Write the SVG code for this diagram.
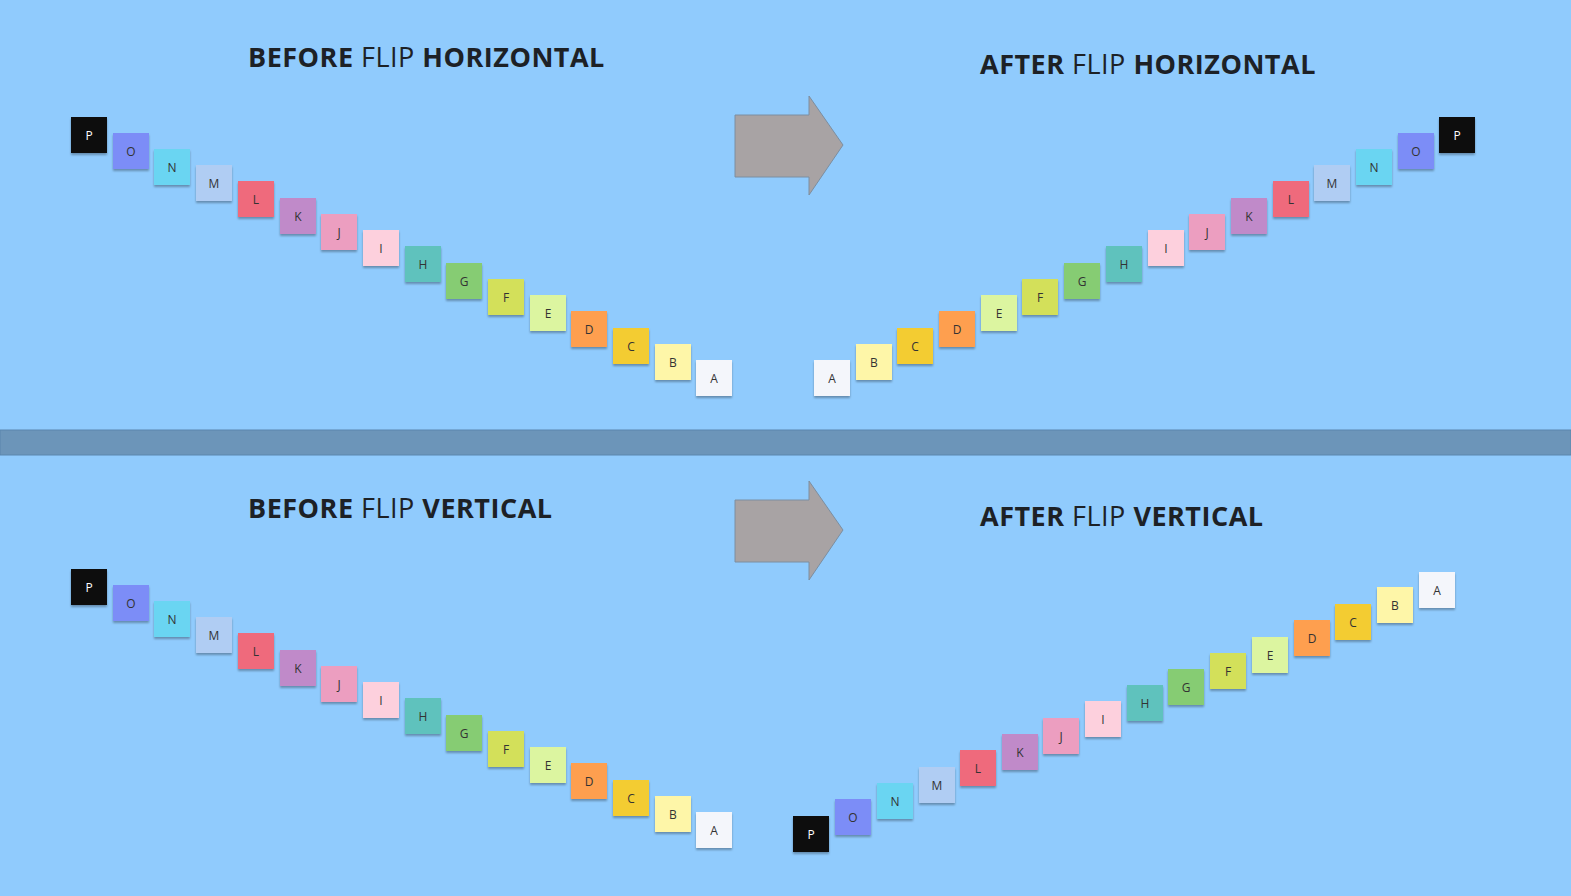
<svg xmlns="http://www.w3.org/2000/svg" width="1571" height="896" viewBox="0 0 1571 896">
<defs>
<style>
.t{font-family:"Open Sans","Liberation Sans",sans-serif;font-size:27px;fill:#1d2126;letter-spacing:0.5px}
.b{font-weight:bold}
.n{stroke:none}
.l{font-family:"Open Sans","Liberation Sans",sans-serif;font-size:12px;fill:#333;text-anchor:middle;dominant-baseline:central}
.w{fill:#fff}
.arr{fill:#a8a3a4;stroke:#7c8ea0;stroke-width:1}
</style>
<filter id="sh" x="-20%" y="-20%" width="140%" height="150%"><feDropShadow dx="0" dy="2" stdDeviation="1.2" flood-opacity="0.3"/></filter>
<symbol id="s" overflow="visible"><rect x="-18" y="-18" width="36" height="36" filter="url(#sh)"/></symbol>
</defs>
<rect width="1571" height="896" fill="#90cbfd"/>
<rect x="0" y="430" width="1571" height="25" fill="#6c95b9" stroke="#5a86ad"/>
<g id="titles">
<text class="t" x="248" y="67"><tspan class="b">BEFORE</tspan> FLIP <tspan class="b">HORIZONTAL</tspan></text>
<text class="t" x="980" y="74"><tspan class="b">AFTER</tspan> FLIP <tspan class="b">HORIZONTAL</tspan></text>
<text class="t" x="248" y="518"><tspan class="b">BEFORE</tspan> FLIP <tspan class="b">VERTICAL</tspan></text>
<text class="t" x="980" y="526"><tspan class="b">AFTER</tspan> FLIP <tspan class="b">VERTICAL</tspan></text>
</g>
<g id="arrow1"><path class="arr" d="M735,115H809V96L843,145L809,195V177H735Z"/></g>
<g id="arrow2"><path class="arr" d="M735,500H809V481L843,530L809,580V562H735Z"/></g>
<g id="notes"></g>
<g id="tl">
<g id="tl-P"><rect x="71" y="117" width="36" height="36" fill="#111" filter="url(#sh)"/><text class="l w" x="89" y="135">P</text></g>
<g id="tl-O"><rect x="113" y="133" width="36" height="36" fill="#7b8df7" filter="url(#sh)"/><text class="l" x="131" y="151">O</text></g>
<g id="tl-N"><rect x="154" y="149" width="36" height="36" fill="#6bd5f2" filter="url(#sh)"/><text class="l" x="172" y="167">N</text></g>
<g id="tl-M"><rect x="196" y="165" width="36" height="36" fill="#b0cdf3" filter="url(#sh)"/><text class="l" x="214" y="183">M</text></g>
<g id="tl-L"><rect x="238" y="181" width="36" height="36" fill="#ef6b7c" filter="url(#sh)"/><text class="l" x="256" y="199">L</text></g>
<g id="tl-K"><rect x="280" y="198" width="36" height="36" fill="#c08ac9" filter="url(#sh)"/><text class="l" x="298" y="216">K</text></g>
<g id="tl-J"><rect x="321" y="214" width="36" height="36" fill="#ec9ec0" filter="url(#sh)"/><text class="l" x="339" y="232">J</text></g>
<g id="tl-I"><rect x="363" y="230" width="36" height="36" fill="#fdd0dd" filter="url(#sh)"/><text class="l" x="381" y="248">I</text></g>
<g id="tl-H"><rect x="405" y="246" width="36" height="36" fill="#5ec2bd" filter="url(#sh)"/><text class="l" x="423" y="264">H</text></g>
<g id="tl-G"><rect x="446" y="263" width="36" height="36" fill="#86cc73" filter="url(#sh)"/><text class="l" x="464" y="281">G</text></g>
<g id="tl-F"><rect x="488" y="279" width="36" height="36" fill="#d3e05a" filter="url(#sh)"/><text class="l" x="506" y="297">F</text></g>
<g id="tl-E"><rect x="530" y="295" width="36" height="36" fill="#dcf5a0" filter="url(#sh)"/><text class="l" x="548" y="313">E</text></g>
<g id="tl-D"><rect x="571" y="311" width="36" height="36" fill="#fe9f4f" filter="url(#sh)"/><text class="l" x="589" y="329">D</text></g>
<g id="tl-C"><rect x="613" y="328" width="36" height="36" fill="#f3cc30" filter="url(#sh)"/><text class="l" x="631" y="346">C</text></g>
<g id="tl-B"><rect x="655" y="344" width="36" height="36" fill="#fef6a8" filter="url(#sh)"/><text class="l" x="673" y="362">B</text></g>
<g id="tl-A"><rect x="696" y="360" width="36" height="36" fill="#f4f6fb" filter="url(#sh)"/><text class="l" x="714" y="378">A</text></g>
</g>
<g id="tr">
<g id="tr-A"><rect x="814" y="360" width="36" height="36" fill="#f4f6fb" filter="url(#sh)"/><text class="l" x="832" y="378">A</text></g>
<g id="tr-B"><rect x="856" y="344" width="36" height="36" fill="#fef6a8" filter="url(#sh)"/><text class="l" x="874" y="362">B</text></g>
<g id="tr-C"><rect x="897" y="328" width="36" height="36" fill="#f3cc30" filter="url(#sh)"/><text class="l" x="915" y="346">C</text></g>
<g id="tr-D"><rect x="939" y="311" width="36" height="36" fill="#fe9f4f" filter="url(#sh)"/><text class="l" x="957" y="329">D</text></g>
<g id="tr-E"><rect x="981" y="295" width="36" height="36" fill="#dcf5a0" filter="url(#sh)"/><text class="l" x="999" y="313">E</text></g>
<g id="tr-F"><rect x="1022" y="279" width="36" height="36" fill="#d3e05a" filter="url(#sh)"/><text class="l" x="1040" y="297">F</text></g>
<g id="tr-G"><rect x="1064" y="263" width="36" height="36" fill="#86cc73" filter="url(#sh)"/><text class="l" x="1082" y="281">G</text></g>
<g id="tr-H"><rect x="1106" y="246" width="36" height="36" fill="#5ec2bd" filter="url(#sh)"/><text class="l" x="1124" y="264">H</text></g>
<g id="tr-I"><rect x="1148" y="230" width="36" height="36" fill="#fdd0dd" filter="url(#sh)"/><text class="l" x="1166" y="248">I</text></g>
<g id="tr-J"><rect x="1189" y="214" width="36" height="36" fill="#ec9ec0" filter="url(#sh)"/><text class="l" x="1207" y="232">J</text></g>
<g id="tr-K"><rect x="1231" y="198" width="36" height="36" fill="#c08ac9" filter="url(#sh)"/><text class="l" x="1249" y="216">K</text></g>
<g id="tr-L"><rect x="1273" y="181" width="36" height="36" fill="#ef6b7c" filter="url(#sh)"/><text class="l" x="1291" y="199">L</text></g>
<g id="tr-M"><rect x="1314" y="165" width="36" height="36" fill="#b0cdf3" filter="url(#sh)"/><text class="l" x="1332" y="183">M</text></g>
<g id="tr-N"><rect x="1356" y="149" width="36" height="36" fill="#6bd5f2" filter="url(#sh)"/><text class="l" x="1374" y="167">N</text></g>
<g id="tr-O"><rect x="1398" y="133" width="36" height="36" fill="#7b8df7" filter="url(#sh)"/><text class="l" x="1416" y="151">O</text></g>
<g id="tr-P"><rect x="1439" y="117" width="36" height="36" fill="#111" filter="url(#sh)"/><text class="l w" x="1457" y="135">P</text></g>
</g>
<g id="bl">
<g id="bl-P"><rect x="71" y="569" width="36" height="36" fill="#111" filter="url(#sh)"/><text class="l w" x="89" y="587">P</text></g>
<g id="bl-O"><rect x="113" y="585" width="36" height="36" fill="#7b8df7" filter="url(#sh)"/><text class="l" x="131" y="603">O</text></g>
<g id="bl-N"><rect x="154" y="601" width="36" height="36" fill="#6bd5f2" filter="url(#sh)"/><text class="l" x="172" y="619">N</text></g>
<g id="bl-M"><rect x="196" y="617" width="36" height="36" fill="#b0cdf3" filter="url(#sh)"/><text class="l" x="214" y="635">M</text></g>
<g id="bl-L"><rect x="238" y="633" width="36" height="36" fill="#ef6b7c" filter="url(#sh)"/><text class="l" x="256" y="651">L</text></g>
<g id="bl-K"><rect x="280" y="650" width="36" height="36" fill="#c08ac9" filter="url(#sh)"/><text class="l" x="298" y="668">K</text></g>
<g id="bl-J"><rect x="321" y="666" width="36" height="36" fill="#ec9ec0" filter="url(#sh)"/><text class="l" x="339" y="684">J</text></g>
<g id="bl-I"><rect x="363" y="682" width="36" height="36" fill="#fdd0dd" filter="url(#sh)"/><text class="l" x="381" y="700">I</text></g>
<g id="bl-H"><rect x="405" y="698" width="36" height="36" fill="#5ec2bd" filter="url(#sh)"/><text class="l" x="423" y="716">H</text></g>
<g id="bl-G"><rect x="446" y="715" width="36" height="36" fill="#86cc73" filter="url(#sh)"/><text class="l" x="464" y="733">G</text></g>
<g id="bl-F"><rect x="488" y="731" width="36" height="36" fill="#d3e05a" filter="url(#sh)"/><text class="l" x="506" y="749">F</text></g>
<g id="bl-E"><rect x="530" y="747" width="36" height="36" fill="#dcf5a0" filter="url(#sh)"/><text class="l" x="548" y="765">E</text></g>
<g id="bl-D"><rect x="571" y="763" width="36" height="36" fill="#fe9f4f" filter="url(#sh)"/><text class="l" x="589" y="781">D</text></g>
<g id="bl-C"><rect x="613" y="780" width="36" height="36" fill="#f3cc30" filter="url(#sh)"/><text class="l" x="631" y="798">C</text></g>
<g id="bl-B"><rect x="655" y="796" width="36" height="36" fill="#fef6a8" filter="url(#sh)"/><text class="l" x="673" y="814">B</text></g>
<g id="bl-A"><rect x="696" y="812" width="36" height="36" fill="#f4f6fb" filter="url(#sh)"/><text class="l" x="714" y="830">A</text></g>
</g>
<g id="br">
<g id="br-P"><rect x="793" y="816" width="36" height="36" fill="#111" filter="url(#sh)"/><text class="l w" x="811" y="834">P</text></g>
<g id="br-O"><rect x="835" y="799" width="36" height="36" fill="#7b8df7" filter="url(#sh)"/><text class="l" x="853" y="817">O</text></g>
<g id="br-N"><rect x="877" y="783" width="36" height="36" fill="#6bd5f2" filter="url(#sh)"/><text class="l" x="895" y="801">N</text></g>
<g id="br-M"><rect x="919" y="767" width="36" height="36" fill="#b0cdf3" filter="url(#sh)"/><text class="l" x="937" y="785">M</text></g>
<g id="br-L"><rect x="960" y="750" width="36" height="36" fill="#ef6b7c" filter="url(#sh)"/><text class="l" x="978" y="768">L</text></g>
<g id="br-K"><rect x="1002" y="734" width="36" height="36" fill="#c08ac9" filter="url(#sh)"/><text class="l" x="1020" y="752">K</text></g>
<g id="br-J"><rect x="1043" y="718" width="36" height="36" fill="#ec9ec0" filter="url(#sh)"/><text class="l" x="1061" y="736">J</text></g>
<g id="br-I"><rect x="1085" y="701" width="36" height="36" fill="#fdd0dd" filter="url(#sh)"/><text class="l" x="1103" y="719">I</text></g>
<g id="br-H"><rect x="1127" y="685" width="36" height="36" fill="#5ec2bd" filter="url(#sh)"/><text class="l" x="1145" y="703">H</text></g>
<g id="br-G"><rect x="1168" y="669" width="36" height="36" fill="#86cc73" filter="url(#sh)"/><text class="l" x="1186" y="687">G</text></g>
<g id="br-F"><rect x="1210" y="653" width="36" height="36" fill="#d3e05a" filter="url(#sh)"/><text class="l" x="1228" y="671">F</text></g>
<g id="br-E"><rect x="1252" y="637" width="36" height="36" fill="#dcf5a0" filter="url(#sh)"/><text class="l" x="1270" y="655">E</text></g>
<g id="br-D"><rect x="1294" y="620" width="36" height="36" fill="#fe9f4f" filter="url(#sh)"/><text class="l" x="1312" y="638">D</text></g>
<g id="br-C"><rect x="1335" y="604" width="36" height="36" fill="#f3cc30" filter="url(#sh)"/><text class="l" x="1353" y="622">C</text></g>
<g id="br-B"><rect x="1377" y="587" width="36" height="36" fill="#fef6a8" filter="url(#sh)"/><text class="l" x="1395" y="605">B</text></g>
<g id="br-A"><rect x="1419" y="572" width="36" height="36" fill="#f4f6fb" filter="url(#sh)"/><text class="l" x="1437" y="590">A</text></g>
</g>
</svg>
